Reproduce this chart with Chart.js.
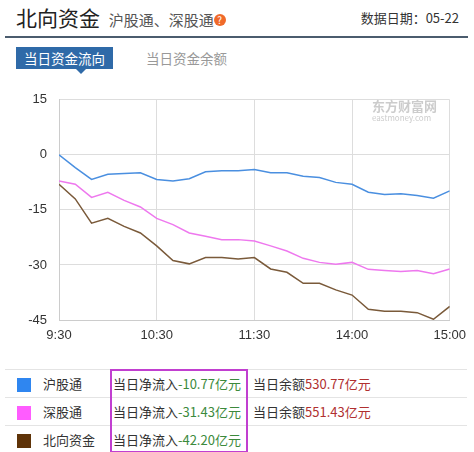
<!DOCTYPE html>
<html>
<head>
<meta charset="utf-8">
<script src="https://cdn.jsdelivr.net/npm/chart.js@4"></script>
<style>
  body { margin: 0; width: 474px; height: 452px; background: #fff; font-family: "Noto Sans CJK SC", sans-serif; position: relative; overflow: hidden; }
  .title { position: absolute; left: 16px; top: 2px; font-size: 21px; color: #222; }
  .sub { font-size: 15px; color: #555; margin-left: 4px; }
  .q { display: inline-block; width: 12px; height: 12px; border-radius: 6px; background: #f06a2a; color: #fff; font-size: 10px; line-height: 12px; text-align: center; vertical-align: 2px; }
  .date { position: absolute; right: 15px; top: 8px; font-size: 13px; color: #333; }
  .rule { position: absolute; left: 5px; right: 6px; top: 36px; height: 2px; background: #4b5c6e; }
  .tab { position: absolute; left: 16px; top: 47px; width: 97px; height: 22px; background: #2f6aa8; color: #fff; font-size: 13.5px; line-height: 22px; text-align: center; }
  .tab:after { content: ""; position: absolute; left: 60px; top: 22px; border: 5px solid transparent; border-top-color: #2f6aa8; }
  .tab2 { position: absolute; left: 146px; top: 47px; font-size: 13.5px; line-height: 22px; color: #999; }
  .wm { position: absolute; left: 372px; top: 100px; color: #ccc; font-size: 13px; font-weight: bold; line-height: 12px; }
  .wm small { display: block; font-size: 8px; font-weight: normal; }
  #wrap { position: absolute; left: 0; top: 80px; width: 474px; height: 270px; }
  table { position: absolute; left: 5px; top: 369px; width: 462px; border-collapse: collapse; font-size: 13px; color: #333; }
  td { border-top: 1px solid #e4e4e4; border-bottom: 1px solid #e4e4e4; height: 27px; padding: 0; }
  .sw { width: 14px; height: 14px; display: inline-block; margin-left: 12px; vertical-align: middle; }
  .g { color: #3c8a3c; }
  .r { color: #b03030; }
  .box { position: absolute; left: 110px; top: 369px; width: 134px; height: 80px; border: 2px solid #c13fd0; }
</style>
</head>
<body>
<div class="title">北向资金 <span class="sub">沪股通、深股通</span><span class="q">?</span></div>
<div class="date">数据日期：05-22</div>
<div class="rule"></div>
<div class="tab">当日资金流向</div>
<div class="tab2">当日资金余额</div>
<div id="wrap"><canvas id="c"></canvas></div>
<div class="wm">东方财富网<small>eastmoney.com</small></div>
<table>
  <tr><td style="width:38px"><span class="sw" style="background:#2f86f0"></span></td><td style="width:67px">沪股通</td><td style="width:143px">&nbsp;当日净流入<span class="g">-10.77亿元</span></td><td>当日余额<span class="r">530.77亿元</span></td></tr>
  <tr><td><span class="sw" style="background:#ff5cff"></span></td><td>深股通</td><td>&nbsp;当日净流入<span class="g">-31.43亿元</span></td><td>当日余额<span class="r">551.43亿元</span></td></tr>
  <tr><td><span class="sw" style="background:#5f3308"></span></td><td>北向资金</td><td>&nbsp;当日净流入<span class="g">-42.20亿元</span></td><td></td></tr>
</table>
<div class="box"></div>
<script>
// minutes since 9:30 (trading time), one sample every 10 minutes
var minutes = [0,10,20,30,40,50,60,70,80,90,100,110,120,130,140,150,160,170,180,190,200,210,220,230,240];
var tickLabels = { 0: '9:30', 60: '10:30', 120: '11:30', 180: '14:00', 240: '15:00' };

var shValues = [0,-3.5,-6.7,-5.3,-5.1,-4.9,-6.7,-7.1,-6.5,-4.6,-4.3,-4.3,-4.0,-4.9,-4.9,-5.8,-6.2,-7.5,-8.0,-10.2,-10.8,-10.6,-11.1,-11.8,-9.8];
var szValues = [-7.1,-8.0,-11.6,-10.2,-12.4,-14.2,-17.3,-19.0,-21.3,-22.2,-23.1,-23.1,-23.5,-24.8,-26.2,-28.2,-29.3,-29.8,-29.3,-31.2,-31.5,-31.8,-31.5,-32.4,-31.1];
var northValues = [-8.0,-12.0,-18.6,-17.3,-19.5,-21.3,-24.8,-28.8,-29.7,-28.0,-28.0,-28.4,-28.0,-31.1,-32.0,-35.0,-35.0,-36.8,-38.2,-42.1,-42.6,-42.6,-43.0,-44.8,-41.3];

function toPoints(vals) {
    return vals.map(function(v, i) { return { x: minutes[i], y: v }; });
}

function lineSet(label, vals, color) {
    return { label: label, data: toPoints(vals), borderColor: color, borderWidth: 1.5, pointRadius: 0, tension: 0, fill: false };
}

var grid = { color: '#ddd', borderDash: [3, 3], drawTicks: false };

new Chart(document.getElementById('c'), {
    type: 'line',
    data: {
        datasets: [
            lineSet('沪股通', shValues, '#4a8fe0'),
            lineSet('深股通', szValues, '#ee78ee'),
            lineSet('北向资金', northValues, '#7a5a3a'),
        ],
    },
    options: {
        responsive: true,
        maintainAspectRatio: false,
        animation: false,
        layout: { padding: { top: 5, right: 10, left: 0, bottom: 0 } },
        plugins: { legend: { display: false }, tooltip: { enabled: false } },
        scales: {
            x: {
                type: 'linear', min: 0, max: 240,
                afterFit: function(s) { s.height = 30; },
                border: { color: '#ccc' },
                grid: grid,
                ticks: { stepSize: 60, padding: 8, color: '#333', font: { size: 13 },
                    callback: function(v) { return tickLabels[v] || ''; } },
            },
            y: {
                min: -45, max: 15,
                afterFit: function(s) { s.width = 59; },
                border: { color: '#ccc' },
                grid: grid,
                ticks: { stepSize: 15, padding: 12, color: '#333', font: { size: 13 } },
            },
        },
    },
});
</script>
</body>
</html>
